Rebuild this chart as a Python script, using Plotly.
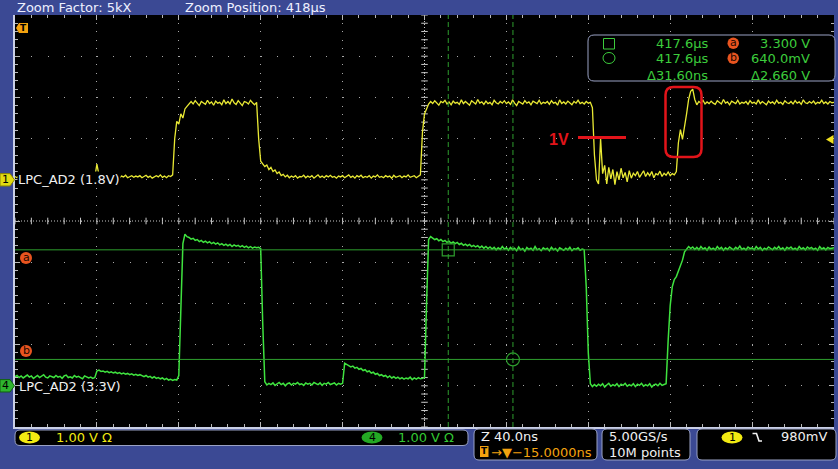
import numpy as np
import plotly.graph_objects as go

# ---------------- data ----------------
start_ns = -200.0          # left edge of the zoomed record (ns, relative to screen centre)
step_ns = 1.0              # sample spacing of the listed values

# Channel 1  (LPC_AD2 1.8 V), volts, one value per ns
ch1_volts = [
    0.08, 0.05, 0.10, 0.06, 0.09, 0.04, 0.08, 0.11, 0.06, 0.07, 0.03, 0.09, 0.07, 0.10, 0.05, 0.08, 0.06, 0.12, 0.07, 0.05,
    0.09, 0.06, 0.10, 0.04, 0.08, 0.07, 0.11, 0.05, 0.09, 0.06, 0.08, 0.10, 0.04, 0.07, 0.09, 0.06, 0.10, 0.05, 0.08, 0.07,
    0.38, 0.12, 0.06, 0.10, 0.05, 0.09, 0.07, 0.12, 0.06, 0.08, 0.10, 0.04, 0.09, 0.07, 0.11, 0.05, 0.08, 0.10, 0.06, 0.09,
    0.07, 0.10, 0.05, 0.08, 0.11, 0.06, 0.09, 0.04, 0.08, 0.10, 0.07, 0.12, 0.06, 0.09, 0.05, 0.10, 0.08, 0.12, 1.00, 1.42,
    1.35, 1.60, 1.50, 1.72, 1.78, 1.85, 1.90, 1.84, 1.92, 1.86, 1.80, 1.90, 1.87, 1.83, 1.93, 1.85, 1.89, 1.81, 1.91, 1.86,
    1.88, 1.82, 1.94, 1.85, 1.90, 1.84, 1.96, 1.87, 1.83, 1.92, 1.86, 1.80, 1.90, 1.88, 1.84, 1.93, 1.87, 1.82, 1.88, 1.00,
    0.45, 0.38, 0.32, 0.36, 0.25, 0.30, 0.20, 0.24, 0.15, 0.19, 0.10, 0.13, 0.07, 0.11, 0.05, 0.09, 0.06, 0.10, 0.04, 0.08,
    0.07, 0.11, 0.05, 0.09, 0.06, 0.10, 0.04, 0.08, 0.12, 0.06, 0.09, 0.05, 0.10, 0.07, 0.11, 0.06, 0.08, 0.04, 0.09, 0.07,
    0.10, 0.05, 0.08, 0.12, 0.06, 0.09, 0.04, 0.10, 0.07, 0.11, 0.05, 0.08, 0.06, 0.10, 0.04, 0.09, 0.07, 0.12, 0.06, 0.08,
    0.05, 0.10, 0.07, 0.09, 0.04, 0.11, 0.06, 0.08, 0.10, 0.05, 0.09, 0.07, 0.12, 0.06, 0.08, 0.10, 0.05, 0.09, 0.12, 1.15,
    1.60, 1.72, 1.84, 1.90, 1.85, 1.92, 1.86, 1.81, 1.90, 1.87, 1.93, 1.84, 1.89, 1.82, 1.91, 1.86, 1.88, 1.83, 1.94, 1.85,
    1.90, 1.86, 1.81, 1.92, 1.87, 1.84, 1.95, 1.86, 1.89, 1.83, 1.91, 1.85, 1.88, 1.82, 1.93, 1.87, 1.84, 1.90, 1.86, 1.92,
    1.85, 1.89, 1.83, 1.94, 1.86, 1.80, 1.90, 1.87, 1.84, 1.92, 1.86, 1.89, 1.82, 1.91, 1.87, 1.85, 1.93, 1.84, 1.88, 1.86,
    1.90, 1.83, 1.92, 1.86, 1.88, 1.81, 1.94, 1.85, 1.89, 1.84, 1.91, 1.87, 1.82, 1.90, 1.86, 1.93, 1.85, 1.88, 1.84, 1.90,
    1.86, 1.88, 1.75, 0.60, 0.00, -0.10, 1.00, 0.15, 0.35, -0.10, 0.30, 0.02, 0.25, -0.12, 0.20, 0.00, 0.28, 0.05, 0.18, -0.05,
    0.22, 0.04, 0.16, 0.10, 0.20, 0.06, 0.14, 0.22, 0.08, 0.17, 0.10, 0.20, 0.05, 0.15, 0.12, 0.21, 0.08, 0.16, 0.11, 0.19,
    0.10, 0.15, 0.12, 0.20, 0.90, 1.22, 0.98, 1.25, 1.60, 1.95, 2.15, 2.20, 1.95, 1.82, 1.90, 1.86, 1.93, 1.84, 1.89, 1.85,
    1.91, 1.86, 1.83, 1.92, 1.87, 1.84, 1.95, 1.86, 1.89, 1.82, 1.91, 1.87, 1.85, 1.93, 1.84, 1.88, 1.86, 1.90, 1.83, 1.92,
    1.86, 1.88, 1.84, 1.94, 1.85, 1.90, 1.87, 1.82, 1.91, 1.86, 1.89, 1.84, 1.93, 1.86, 1.88, 1.83, 1.92, 1.87, 1.85, 1.90,
    1.84, 1.92, 1.86, 1.89, 1.83, 1.94, 1.87, 1.85, 1.90, 1.86, 1.91, 1.84, 1.88, 1.86, 1.93, 1.85, 1.89, 1.84, 1.90, 1.87,
    1.88,
]

# Channel 4  (LPC_AD2 3.3 V), volts, one value per ns
ch4_volts = [
    0.22, 0.25, 0.20, 0.24, 0.19, 0.23, 0.26, 0.21, 0.24, 0.18, 0.22, 0.25, 0.20, 0.23, 0.27, 0.21, 0.19, 0.24, 0.22, 0.20,
    0.25, 0.21, 0.23, 0.18, 0.24, 0.26, 0.20, 0.22, 0.19, 0.25, 0.21, 0.23, 0.20, 0.17, 0.24, 0.22, 0.19, 0.21, 0.18, 0.20,
    0.36, 0.38, 0.35, 0.36, 0.33, 0.35, 0.32, 0.34, 0.31, 0.33, 0.30, 0.32, 0.29, 0.31, 0.28, 0.30, 0.27, 0.29, 0.26, 0.28,
    0.25, 0.27, 0.24, 0.22, 0.25, 0.21, 0.23, 0.19, 0.22, 0.18, 0.20, 0.17, 0.19, 0.15, 0.18, 0.14, 0.16, 0.13, 0.15, 0.14,
    0.25, 1.90, 3.45, 3.68, 3.62, 3.60, 3.56, 3.58, 3.53, 3.55, 3.50, 3.53, 3.48, 3.51, 3.47, 3.50, 3.45, 3.48, 3.44, 3.47,
    3.42, 3.45, 3.41, 3.44, 3.40, 3.43, 3.38, 3.42, 3.39, 3.41, 3.37, 3.40, 3.36, 3.39, 3.35, 3.38, 3.34, 3.37, 3.35, 3.36,
    3.33, 1.50, 0.10, 0.02, 0.06, 0.03, 0.07, 0.01, 0.05, 0.08, 0.03, 0.06, 0.00, 0.05, 0.07, 0.02, 0.06, 0.04, 0.08, 0.03,
    0.05, 0.01, 0.07, 0.04, 0.06, 0.02, 0.08, 0.05, 0.03, 0.07, 0.01, 0.06, 0.04, 0.08, 0.03, 0.05, 0.07, 0.02, 0.06, 0.04,
    0.06, 0.55, 0.52, 0.50, 0.46, 0.48, 0.43, 0.45, 0.40, 0.42, 0.37, 0.39, 0.34, 0.36, 0.31, 0.33, 0.28, 0.30, 0.25, 0.27,
    0.23, 0.25, 0.20, 0.24, 0.19, 0.22, 0.18, 0.21, 0.17, 0.20, 0.16, 0.19, 0.17, 0.21, 0.15, 0.19, 0.16, 0.20, 0.17, 0.18,
    0.20, 2.00, 3.55, 3.62, 3.58, 3.55, 3.57, 3.52, 3.55, 3.50, 3.53, 3.48, 3.51, 3.46, 3.49, 3.45, 3.48, 3.43, 3.46, 3.41,
    3.44, 3.40, 3.43, 3.38, 3.41, 3.37, 3.40, 3.35, 3.39, 3.34, 3.38, 3.33, 3.37, 3.32, 3.36, 3.30, 3.35, 3.31, 3.38, 3.32,
    3.35, 3.29, 3.36, 3.31, 3.34, 3.28, 3.37, 3.30, 3.33, 3.27, 3.36, 3.31, 3.34, 3.29, 3.38, 3.30, 3.33, 3.28, 3.35, 3.31,
    3.34, 3.28, 3.36, 3.30, 3.33, 3.27, 3.35, 3.31, 3.29, 3.34, 3.30, 3.36, 3.28, 3.33, 3.31, 3.35, 3.29, 3.32, 3.30, 2.40,
    0.80, 0.05, -0.02, 0.03, -0.01, 0.04, 0.00, 0.05, -0.03, 0.02, 0.06, -0.01, 0.03, 0.00, 0.05, -0.02, 0.04, 0.01, 0.06, -0.01,
    0.03, 0.00, 0.05, -0.02, 0.04, 0.01, 0.06, -0.01, 0.03, 0.00, 0.05, -0.03, 0.02, 0.04, 0.00, 0.06, 0.01, 0.03, 0.05, 1.10,
    1.95, 2.40, 2.58, 2.65, 2.78, 2.90, 3.05, 3.25, 3.32, 3.38, 3.33, 3.37, 3.31, 3.36, 3.30, 3.38, 3.32, 3.35, 3.29, 3.37,
    3.31, 3.34, 3.30, 3.38, 3.32, 3.36, 3.29, 3.35, 3.31, 3.37, 3.33, 3.30, 3.36, 3.32, 3.39, 3.31, 3.34, 3.30, 3.37, 3.33,
    3.35, 3.30, 3.38, 3.32, 3.36, 3.29, 3.34, 3.31, 3.37, 3.33, 3.30, 3.36, 3.32, 3.38, 3.31, 3.35, 3.29, 3.36, 3.33, 3.37,
    3.31, 3.34, 3.30, 3.38, 3.32, 3.35, 3.30, 3.37, 3.33, 3.36, 3.31, 3.34, 3.29, 3.38, 3.32, 3.35, 3.30, 3.36, 3.33, 3.34,
    3.35,
]

cursor_t_ns = [11.6, 43.2]      # vertical cursors (square / circle)
cursor_v = [3.30, 0.64]         # horizontal cursors a / b (channel 4)
trigger_level_v = 0.98

ch1_label = "LPC_AD2 (1.8V)"
ch4_label = "LPC_AD2 (3.3V)"
header_left = "Zoom Factor: 5kX"
header_right = "Zoom Position: 418µs"
readout_rows = [["417.6µs", "a", "3.300 V"], ["417.6µs", "b", "640.0mV"], ["Δ31.60ns", "", "Δ2.660 V"]]
scale_text = "1.00 V Ω"
zoom_text = "Z 40.0ns"
delay_text = "→▼−15.0000ns"
rate_texts = ["5.00GS/s", "10M points"]
trig_text = "980mV"

# ---------------- geometry helpers ----------------
W, H = 838, 469
ML, MR, MT, MB = 15, 4, 15, 42
PW = W - ML - MR
PH = H - MT - MB

def X(px):
    return (px - ML) / PW

def Y(py):
    return (MT + PH - py) / PH

def rrect(x0, y0, x1, y1, r):
    return (f"M {X(x0 + r)},{Y(y0)} L {X(x1 - r)},{Y(y0)} Q {X(x1)},{Y(y0)} {X(x1)},{Y(y0 + r)} "
            f"L {X(x1)},{Y(y1 - r)} Q {X(x1)},{Y(y1)} {X(x1 - r)},{Y(y1)} "
            f"L {X(x0 + r)},{Y(y1)} Q {X(x0)},{Y(y1)} {X(x0)},{Y(y1 - r)} "
            f"L {X(x0)},{Y(y0 + r)} Q {X(x0)},{Y(y0)} {X(x0 + r)},{Y(y0)} Z")

def poly(pts):
    return "M " + " L ".join(f"{X(a)},{Y(b)}" for a, b in pts) + " Z"

YEL = "#e9e934"
GRN = "#3fe23f"
CUR = "#2e9e2e"
GRID = "#a8a8a8"
BLUE = "#3b4994"
PANEL_EDGE = "#9aa2c4"
RDG = "#3ccc3c"
ORANGE = "#e8541f"

t1 = start_ns + step_ns * np.arange(len(ch1_volts))
t4 = start_ns + step_ns * np.arange(len(ch4_volts))

fig = go.Figure()
fig.add_trace(go.Scatter(x=t1, y=ch1_volts, mode="lines", xaxis="x", yaxis="y",
                         line=dict(color=YEL, width=1.3), hoverinfo="skip"))
fig.add_trace(go.Scatter(x=t4, y=ch4_volts, mode="lines", xaxis="x2", yaxis="y2",
                         line=dict(color=GRN, width=1.5), hoverinfo="skip"))
# cursor intersection markers
fig.add_trace(go.Scatter(x=[cursor_t_ns[0]], y=[cursor_v[0]], mode="markers", xaxis="x2", yaxis="y2",
                         marker=dict(symbol="square-open", size=12, color=CUR, line=dict(width=1.2)),
                         hoverinfo="skip"))
fig.add_trace(go.Scatter(x=[cursor_t_ns[1]], y=[cursor_v[1]], mode="markers", xaxis="x2", yaxis="y2",
                         marker=dict(symbol="circle-open", size=13, color=CUR, line=dict(width=1.2)),
                         hoverinfo="skip"))

shapes = []
ann = []

# centre crosshair (dense dotted) with tick marks
shapes.append(dict(type="line", xref="x", yref="y domain", x0=0, x1=0, y0=0, y1=1,
                   line=dict(color="#c8c8c8", width=1, dash="1px,2px"), layer="below"))
shapes.append(dict(type="line", xref="x domain", yref="y", x0=0, x1=1, y0=-1, y1=-1,
                   line=dict(color="#c8c8c8", width=1, dash="1px,2px"), layer="below"))
for tk in np.arange(-200, 201, 8):
    shapes.append(dict(type="line", xref="x", yref="y", x0=tk, x1=tk, y0=-1.08, y1=-0.92,
                       line=dict(color="#c8c8c8", width=1), layer="below"))
for vk in np.arange(-6, 4.01, 0.2):
    shapes.append(dict(type="line", xref="x", yref="y", x0=-1.6, x1=1.6, y0=vk, y1=vk,
                       line=dict(color="#c8c8c8", width=1), layer="below"))

# cursors
for tc in cursor_t_ns:
    shapes.append(dict(type="line", xref="x", yref="y domain", x0=tc, x1=tc, y0=0, y1=1,
                       line=dict(color=CUR, width=1, dash="5px,3px")))
for vc in cursor_v:
    shapes.append(dict(type="line", xref="x domain", yref="y2", x0=0, x1=1, y0=vc, y1=vc,
                       line=dict(color=CUR, width=1)))

# readout box
shapes.append(dict(type="path", xref="paper", yref="paper", path=rrect(588, 35, 835, 81, 6),
                   fillcolor="black", line=dict(color=PANEL_EDGE, width=1), layer="above"))
shapes.append(dict(type="rect", xref="paper", yref="paper", x0=X(603.5), x1=X(614.5), y0=Y(38.5), y1=Y(49),
                   line=dict(color=RDG, width=1), layer="above"))
shapes.append(dict(type="circle", xref="paper", yref="paper", x0=X(603), x1=X(615), y0=Y(52.5), y1=Y(63.5),
                   line=dict(color=RDG, width=1), layer="above"))
row_y = [43.5, 58.5, 75]
for (c1, c2, c3), ry in zip(readout_rows, row_y):
    ann.append(dict(text=c1, x=X(710), y=Y(ry), xanchor="right", font=dict(color=RDG, size=13)))
    if c2:
        shapes.append(dict(type="circle", xref="paper", yref="paper", x0=X(727.5), x1=X(739), y0=Y(ry - 6),
                           y1=Y(ry + 5.5), fillcolor=ORANGE, line=dict(width=0), layer="above"))
        ann.append(dict(text=c2, x=X(733.3), y=Y(ry - 0.5), xanchor="center",
                        font=dict(color="#200800", size=11)))
    ann.append(dict(text=c3, x=X(812), y=Y(ry), xanchor="right", font=dict(color=RDG, size=13)))

# red annotation
shapes.append(dict(type="path", xref="paper", yref="paper", path=rrect(665.5, 87, 701.5, 157, 8),
                   line=dict(color="#e2141a", width=2.5), layer="above"))
shapes.append(dict(type="line", xref="paper", yref="paper", x0=X(578), x1=X(626), y0=Y(137.5), y1=Y(137.5),
                   line=dict(color="#e2141a", width=3), layer="above"))
ann.append(dict(text="<b>1V</b>", x=X(547), y=Y(139.5), xanchor="left",
                font=dict(color="#e2141a", size=16, family="Liberation Sans")))

# channel labels (black backing like the scope)
ann.append(dict(text=ch1_label, x=X(16.5), y=0, yref="y", xanchor="left", bgcolor="black", borderpad=0,
                font=dict(color="#f0f0f0", size=13)))
ann.append(dict(text=ch4_label, x=X(16.5), y=-0.02, yref="y2", xanchor="left", yanchor="middle",
                font=dict(color="#f0f0f0", size=13)))

# ground markers on the left
shapes.append(dict(type="path", xref="paper", yref="y",
                   path=f"M {X(0)},-0.15 L {X(10)},-0.15 L {X(14.5)},0 L {X(10)},0.15 L {X(0)},0.15 Z",
                   fillcolor="#e2da12", line=dict(color="#8a8400", width=1), layer="above"))
ann.append(dict(text="1", x=X(5.5), y=0, yref="y", xanchor="center", font=dict(color="black", size=11)))
shapes.append(dict(type="path", xref="paper", yref="y2",
                   path=f"M {X(0)},-0.15 L {X(10)},-0.15 L {X(14.5)},0 L {X(10)},0.15 L {X(0)},0.15 Z",
                   fillcolor="#2fb52f", line=dict(color="#106010", width=1), layer="above"))
ann.append(dict(text="4", x=X(5.5), y=0, yref="y2", xanchor="center", font=dict(color="black", size=11)))

# cursor a / b tags on the left
for lab, py in (("a", 258), ("b", 351)):
    shapes.append(dict(type="circle", xref="paper", yref="paper", x0=X(20), x1=X(32), y0=Y(py + 6),
                       y1=Y(py - 6), fillcolor=ORANGE, line=dict(width=0), layer="above"))
    ann.append(dict(text=lab, x=X(26), y=Y(py - 0.5), xanchor="center", font=dict(color="#200800", size=11)))

# trigger position marker (top-left) and trigger level marker (right)
shapes.append(dict(type="path", xref="paper", yref="paper",
                   path=poly([(16, 28), (19, 23), (28, 23), (28, 33), (19, 33)]),
                   fillcolor="#f3a20f", line=dict(width=0), layer="above"))
ann.append(dict(text="<b>T</b>", x=X(23), y=Y(28), xanchor="center", font=dict(color="black", size=9)))
shapes.append(dict(type="path", xref="paper", yref="y",
                   path=f"M {X(826)},{trigger_level_v} L {X(833.5)},{trigger_level_v + 0.11} "
                        f"L {X(833.5)},{trigger_level_v - 0.11} Z",
                   fillcolor="#f0e020", line=dict(width=0), layer="above"))

# header
ann.append(dict(text=header_left, x=X(15), y=Y(7), xanchor="left", font=dict(color="#eef0ff", size=13)))
ann.append(dict(text=header_right, x=X(183), y=Y(7), xanchor="left", font=dict(color="#eef0ff", size=13)))

# bottom panels
for (x0, y0, x1, y1) in ((15, 430, 468, 445.5), (474, 429, 597, 460), (602, 429, 690, 460), (697, 429, 836, 460)):
    shapes.append(dict(type="path", xref="paper", yref="paper", path=rrect(x0, y0, x1, y1, 5),
                       fillcolor="black", line=dict(color=PANEL_EDGE, width=1), layer="above"))
for cx, fc, lab in ((29.5, "#f2ea12", "1"), (372, "#24a824", "4"), (732, "#f2ea12", "1")):
    shapes.append(dict(type="circle", xref="paper", yref="paper", x0=X(cx - 10.5), x1=X(cx + 10.5),
                       y0=Y(443.5), y1=Y(431.5), fillcolor=fc, line=dict(width=0), layer="above"))
    ann.append(dict(text=lab, x=X(cx), y=Y(437.5), xanchor="center", font=dict(color="black", size=11)))
ann.append(dict(text=scale_text, x=X(54), y=Y(437.5), xanchor="left", font=dict(color="#f2ea12", size=13)))
ann.append(dict(text=scale_text, x=X(396), y=Y(437.5), xanchor="left", font=dict(color="#33c833", size=13)))
ann.append(dict(text=zoom_text, x=X(478.5), y=Y(436.5), xanchor="left", font=dict(color="#f0f0f0", size=13)))
shapes.append(dict(type="rect", xref="paper", yref="paper", x0=X(480), x1=X(488.5), y0=Y(457), y1=Y(446),
                   fillcolor="#f3a20f", line=dict(width=0), layer="above"))
ann.append(dict(text="<b>T</b>", x=X(484.3), y=Y(451.5), xanchor="center", font=dict(color="black", size=9)))
ann.append(dict(text=delay_text, x=X(488.5), y=Y(452), xanchor="left", font=dict(color="#f3a20f", size=13)))
ann.append(dict(text=rate_texts[0], x=X(606.5), y=Y(436.5), xanchor="left", font=dict(color="#f0f0f0", size=13)))
ann.append(dict(text=rate_texts[1], x=X(606.5), y=Y(452), xanchor="left", font=dict(color="#f0f0f0", size=13)))
ann.append(dict(text=trig_text, x=X(829), y=Y(436.5), xanchor="right", font=dict(color="#f0f0f0", size=13)))
shapes.append(dict(type="path", xref="paper", yref="paper",
                   path=f"M {X(752.5)},{Y(433.5)} L {X(756.5)},{Y(433.5)} L {X(759)},{Y(441)} L {X(762)},{Y(441)}",
                   line=dict(color="#f0f0f0", width=1.6), layer="above"))

for a in ann:
    a.setdefault("xref", "paper")
    a.setdefault("yref", "paper")
    a.setdefault("showarrow", False)
    a.setdefault("yanchor", "middle")
    a["font"].setdefault("family", "DejaVu Sans")

tick_common = dict(showticklabels=False, zeroline=False, fixedrange=True)
fig.update_layout(
    width=W, height=H,
    margin=dict(l=ML, r=MR, t=MT, b=MB, pad=0),
    paper_bgcolor=BLUE, plot_bgcolor="black",
    showlegend=False, hovermode=False,
    xaxis=dict(range=[-200, 200], showgrid=True, dtick=40, tick0=0, gridcolor=GRID, gridwidth=1,
               griddash="1px,7.24px", ticks="inside", ticklen=5, tickcolor="#b8b8b8",
               minor=dict(dtick=8, tick0=0, ticks="inside", ticklen=3, tickcolor="#b8b8b8", showgrid=False),
               showline=True, linecolor="#c9cfe6", linewidth=1.5, **tick_common),
    xaxis2=dict(range=[-200, 200], overlaying="x", side="top", anchor="y2", showgrid=False, dtick=40, tick0=0,
                ticks="inside", ticklen=5, tickcolor="#b8b8b8",
                minor=dict(dtick=8, tick0=0, ticks="inside", ticklen=3, tickcolor="#b8b8b8", showgrid=False),
                showline=False, **tick_common),
    yaxis=dict(range=[-6, 4], showgrid=True, dtick=1, tick0=0, gridcolor=GRID, gridwidth=1,
               griddash="1px,15.38px", ticks="inside", ticklen=5, tickcolor="#b8b8b8",
               minor=dict(dtick=0.2, tick0=0, ticks="inside", ticklen=3, tickcolor="#b8b8b8", showgrid=False),
               showline=True, linecolor="#c9cfe6", linewidth=1.5, **tick_common),
    yaxis2=dict(range=[-1, 9], overlaying="y", side="right", anchor="x2", showgrid=False, dtick=1, tick0=0,
                ticks="inside", ticklen=5, tickcolor="#b8b8b8",
                minor=dict(dtick=0.2, tick0=0, ticks="inside", ticklen=3, tickcolor="#b8b8b8", showgrid=False),
                showline=False, **tick_common),
    shapes=shapes,
    annotations=ann,
)

fig.write_html("out.html", config={"displayModeBar": False},
               post_script="document.body.style.margin='0';document.body.style.background='" + BLUE + "';")
